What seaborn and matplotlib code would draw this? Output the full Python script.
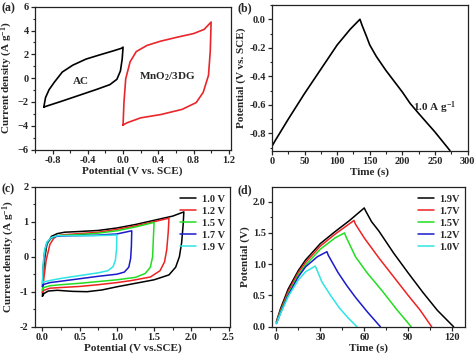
import matplotlib
matplotlib.use("Agg")
import matplotlib.pyplot as plt
import seaborn as sns
import pandas as pd
from matplotlib.ticker import MultipleLocator

# ---------------- (a) CV of AC and MnO2/3DG ----------------
ac_x = [-0.9, -0.88, -0.84, -0.78, -0.69, -0.57, -0.42, -0.27, -0.11, -0.02, 0.0,
        -0.01, -0.03, -0.07, -0.15, -0.3, -0.5, -0.7, -0.9]
ac_y = [-2.43, -1.63, -0.97, -0.34, 0.51, 1.09, 1.6, 1.94, 2.29, 2.5, 2.6,
        1.6, 0.6, -0.1, -0.55, -0.95, -1.45, -1.95, -2.43]
mno_x = [0.0, 0.01, 0.03, 0.08, 0.15, 0.27, 0.42, 0.61, 0.8, 0.92, 1.0,
         0.99, 0.97, 0.91, 0.83, 0.67, 0.43, 0.2, 0.04, 0.0]
mno_y = [-3.95, -2.06, -0.06, 1.37, 2.23, 2.74, 3.09, 3.43, 3.74, 4.09, 4.71,
         2.23, 0.23, -1.2, -2.06, -2.63, -3.06, -3.34, -3.77, -3.95]

# ---------------- (b) GCD at 1.0 A/g ----------------
gcd_t = [0, 5, 25, 50, 75, 100, 120, 135, 138, 145, 150, 160, 175, 200, 212, 225, 250, 273]
gcd_v = [-0.89, -0.85, -0.70, -0.52, -0.35, -0.18, -0.07, 0.0, -0.04, -0.12, -0.18,
         -0.26, -0.36, -0.51, -0.59, -0.66, -0.79, -0.92]

# ---------------- (c) CV of the device at different windows ----------------
cv_labels = ["1.0 V", "1.2 V", "1.5 V", "1.7 V", "1.9 V"]
cv_colors = ["#000000", "#ee2222", "#22dd22", "#1a1acc", "#30e4e4"]
cv_x = [
    [0, 0.01, 0.03, 0.06, 0.12, 0.2, 0.3, 0.5, 0.75, 1.0, 1.25, 1.5, 1.75, 1.9,
     1.89, 1.87, 1.84, 1.79, 1.7, 1.5, 1.25, 1.0, 0.8, 0.6, 0.4, 0.2, 0.08, 0.02, 0],
    [0, 0.02, 0.05, 0.1, 0.15, 0.2, 0.3, 0.5, 0.75, 1.0, 1.25, 1.5, 1.7,
     1.69, 1.67, 1.64, 1.58, 1.45, 1.2, 1.0, 0.75, 0.5, 0.25, 0.1, 0.02, 0],
    [0, 0.01, 0.03, 0.06, 0.12, 0.2, 0.4, 0.7, 1.0, 1.25, 1.5,
     1.49, 1.48, 1.45, 1.38, 1.25, 1.0, 0.75, 0.5, 0.25, 0.1, 0.02, 0],
    [0, 0.01, 0.03, 0.06, 0.12, 0.2, 0.4, 0.7, 1.0, 1.2,
     1.195, 1.185, 1.16, 1.1, 1.0, 0.75, 0.5, 0.25, 0.1, 0.02, 0],
    [0, 0.01, 0.03, 0.06, 0.12, 0.2, 0.4, 0.7, 1.0,
     0.995, 0.98, 0.95, 0.88, 0.75, 0.5, 0.25, 0.1, 0.02, 0],
]
cv_y = [
    [-1.13, -0.6, -0.05, 0.35, 0.58, 0.66, 0.7, 0.72, 0.75, 0.82, 0.92, 1.04, 1.16, 1.28,
     0.9, 0.4, 0.0, -0.3, -0.52, -0.66, -0.76, -0.86, -0.95, -1.0, -0.99, -0.96, -0.98, -1.05, -1.13],
    [-1.02, -0.6, -0.1, 0.35, 0.52, 0.6, 0.63, 0.66, 0.7, 0.78, 0.88, 1.0, 1.1,
     0.7, 0.2, -0.15, -0.4, -0.58, -0.68, -0.74, -0.8, -0.85, -0.88, -0.9, -0.96, -1.02],
    [-0.95, -0.35, 0.1, 0.38, 0.53, 0.6, 0.62, 0.66, 0.74, 0.85, 0.98,
     0.5, 0.0, -0.3, -0.48, -0.59, -0.66, -0.71, -0.76, -0.8, -0.83, -0.88, -0.95],
    [-0.85, -0.3, 0.15, 0.4, 0.54, 0.59, 0.6, 0.61, 0.65, 0.74,
     0.3, -0.05, -0.3, -0.44, -0.5, -0.56, -0.63, -0.7, -0.74, -0.79, -0.85],
    [-0.75, -0.2, 0.2, 0.42, 0.55, 0.6, 0.6, 0.6, 0.62,
     0.2, -0.1, -0.28, -0.4, -0.46, -0.54, -0.62, -0.68, -0.72, -0.75],
]

# ---------------- (d) GCD of the device at different windows ----------------
gcd_labels = ["1.9V", "1.7V", "1.5V", "1.2V", "1.0V"]
gcd_colors = ["#000000", "#ee2222", "#22dd22", "#1a1acc", "#30e4e4"]
dev_t = [
    [0, 3, 8, 15, 20, 30, 40, 50, 60, 61, 65, 70, 80, 90, 100, 110, 121],
    [0, 3, 8, 15, 20, 30, 40, 53, 54, 60, 70, 80, 90, 98, 106],
    [0, 3, 8, 15, 20, 30, 40, 46.5, 47.5, 54, 62, 72, 82, 92],
    [0, 3, 8, 15, 20, 28, 34.5, 35.5, 42, 48, 54, 62, 71],
    [0, 3, 8, 15, 20, 26.5, 27.5, 31, 37, 43, 49, 55],
]
dev_v = [
    [0.08, 0.3, 0.6, 0.9, 1.07, 1.33, 1.52, 1.7, 1.9, 1.85, 1.68, 1.53, 1.18, 0.86, 0.55, 0.26, 0.0],
    [0.07, 0.27, 0.56, 0.87, 1.03, 1.29, 1.48, 1.7, 1.64, 1.42, 1.1, 0.8, 0.5, 0.27, 0.0],
    [0.06, 0.25, 0.52, 0.83, 0.99, 1.24, 1.42, 1.5, 1.44, 1.12, 0.86, 0.58, 0.28, 0.0],
    [0.05, 0.23, 0.5, 0.8, 0.96, 1.12, 1.2, 1.14, 0.87, 0.66, 0.47, 0.24, 0.0],
    [0.05, 0.22, 0.48, 0.75, 0.88, 0.97, 0.92, 0.72, 0.5, 0.3, 0.14, 0.0],
]

# ---------------- style ----------------
sns.set_style("ticks")
plt.rcParams["font.family"] = ["Liberation Serif", "DejaVu Serif"]
plt.rcParams["font.weight"] = "bold"
plt.rcParams["axes.labelweight"] = "bold"
plt.rcParams["mathtext.fontset"] = "custom"
plt.rcParams["mathtext.rm"] = "Liberation Serif:bold"
plt.rcParams["mathtext.bf"] = "Liberation Serif:bold"
plt.rcParams["mathtext.it"] = "Liberation Serif:bold"
plt.rcParams["mathtext.default"] = "bf"

fs_tick = 7.5
fs_lab = 8

fig = plt.figure(figsize=(4.74, 3.57), dpi=100)
W, H = 474, 357


def add_ax(l, t, r, b):
    return fig.add_axes([l / W, 1 - b / H, (r - l) / W, (b - t) / H])


ax_a = add_ax(35, 6.7, 230.5, 149.5)
ax_b = add_ax(272, 5, 467.5, 150.5)
ax_c = add_ax(35, 186.7, 230, 326.7)
ax_d = add_ax(272, 186.7, 465.3, 326.7)


def style(ax):
    for s in ax.spines.values():
        s.set_linewidth(0.9)
        s.set_color("#222222")
    ax.tick_params(which="major", direction="out", length=3, width=0.9,
                   labelsize=fs_tick, pad=1.5, top=False, right=False)
    ax.tick_params(which="minor", direction="out", length=1.8, width=0.8,
                   top=False, right=False)
    for lab in ax.get_xticklabels() + ax.get_yticklabels():
        lab.set_fontweight("bold")


def legend(ax):
    ax.legend(loc="upper right", bbox_to_anchor=(1.0, 0.98), frameon=False,
              handlelength=1.6, handletextpad=0.5, labelspacing=0.25,
              borderaxespad=0.1, prop={"weight": "bold", "size": fs_tick})


# (a)
sns.lineplot(x=ac_x, y=ac_y, sort=False, estimator=None, color="black", lw=1.2, ax=ax_a)
sns.lineplot(x=mno_x, y=mno_y, sort=False, estimator=None, color="#e8262b", lw=1.2, ax=ax_a)
ax_a.set_xlim(-1.0, 1.22)
ax_a.set_ylim(-6, 6)
ax_a.xaxis.set_minor_locator(MultipleLocator(0.2))
ax_a.yaxis.set_major_locator(MultipleLocator(2))
ax_a.yaxis.set_minor_locator(MultipleLocator(1))
ax_a.set_xticks([-0.8, -0.4, 0.0, 0.4, 0.8, 1.2])
ax_a.set_xticklabels(["-0.8", "-0.4", "0.0", "0.4", "0.8", "1.2"])
ax_a.set_xlabel("Potential (V vs. SCE)", fontsize=fs_lab, labelpad=1)
ax_a.set_ylabel("Current density (A g$^{-1}$)", fontsize=fs_lab, labelpad=2)
ax_a.text(-0.48, -0.3, "AC", fontsize=fs_lab, ha="center", va="center", fontweight="bold")
ax_a.text(0.5, 0.1, "MnO$_2$/3DG", fontsize=fs_lab, ha="center", va="center", fontweight="bold")
style(ax_a)

# (b)
sns.lineplot(x=gcd_t, y=gcd_v, sort=False, estimator=None, color="black", lw=1.2, ax=ax_b)
ax_b.set_xlim(0, 300)
ax_b.set_ylim(-0.92, 0.1)
ax_b.xaxis.set_major_locator(MultipleLocator(50))
ax_b.xaxis.set_minor_locator(MultipleLocator(25))
ax_b.yaxis.set_minor_locator(MultipleLocator(0.1))
ax_b.set_yticks([-0.8, -0.6, -0.4, -0.2, 0.0])
ax_b.set_yticklabels(["-0.8", "-0.6", "-0.4", "-0.2", "0.0"])
ax_b.set_xlabel("Time (s)", fontsize=fs_lab, labelpad=1)
ax_b.set_ylabel("Potential (V vs. SCE)", fontsize=fs_lab, labelpad=2)
ax_b.text(217, -0.62, "1.0 A g$^{-1}$", fontsize=fs_lab, ha="left", va="center", fontweight="bold")
style(ax_b)

# (c)
for xs, ys, lab, col in zip(cv_x, cv_y, cv_labels, cv_colors):
    sns.lineplot(x=xs, y=ys, sort=False, estimator=None, color=col, lw=1.1, ax=ax_c, label=lab)
ax_c.set_xlim(-0.1, 2.52)
ax_c.set_ylim(-2, 2)
ax_c.xaxis.set_major_locator(MultipleLocator(0.5))
ax_c.xaxis.set_minor_locator(MultipleLocator(0.25))
ax_c.yaxis.set_minor_locator(MultipleLocator(0.5))
ax_c.set_yticks([-2, -1, 0, 1, 2])
ax_c.set_yticklabels(["-2", "-1", "0", "1", "2"])
ax_c.set_xlabel("Potential (V vs.SCE)", fontsize=fs_lab, labelpad=1)
ax_c.set_ylabel("Current density (A g$^{-1}$)", fontsize=fs_lab, labelpad=2)
legend(ax_c)
style(ax_c)

# (d)
for ts, vs, lab, col in zip(dev_t, dev_v, gcd_labels, gcd_colors):
    sns.lineplot(x=ts, y=vs, sort=False, estimator=None, color=col, lw=1.1, ax=ax_d, label=lab)
ax_d.set_xlim(-3, 129)
ax_d.set_ylim(0, 2.24)
ax_d.set_xticks([0, 30, 60, 90, 120])
ax_d.xaxis.set_minor_locator(MultipleLocator(15))
ax_d.yaxis.set_major_locator(MultipleLocator(0.5))
ax_d.yaxis.set_minor_locator(MultipleLocator(0.25))
ax_d.set_xlabel("Time (s)", fontsize=fs_lab, labelpad=1)
ax_d.set_ylabel("Potential (V)", fontsize=fs_lab, labelpad=2)
legend(ax_d)
style(ax_d)

# panel letters
for lab, x, y in [("(a)", 2, 8), ("(b)", 238, 8), ("(c)", 2, 189), ("(d)", 238, 190)]:
    fig.text(x / W, 1 - y / H, lab, fontsize=fs_lab + 0.5, fontweight="bold", ha="left", va="center")

fig.savefig("out.png", dpi=100)
